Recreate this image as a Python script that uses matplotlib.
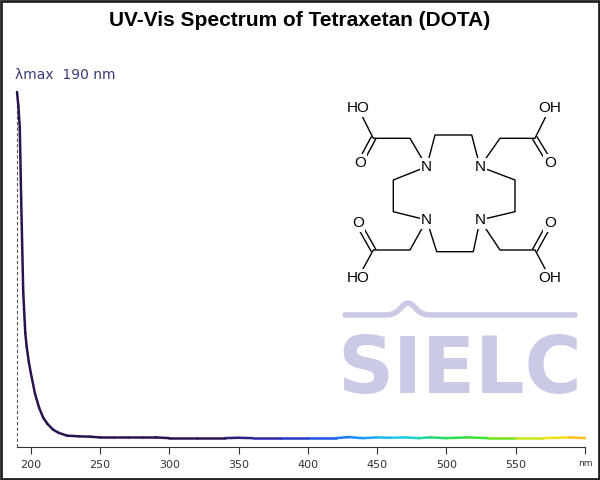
import numpy as np
import matplotlib
matplotlib.use("Agg")
import matplotlib.pyplot as plt
from matplotlib.collections import LineCollection
from matplotlib.colors import LinearSegmentedColormap
from matplotlib.patches import Rectangle

wavelength = [190, 191, 192, 193, 194.5, 196, 197, 198.5, 200, 203, 206, 209, 212, 216, 220, 226, 235, 243,
              250, 260, 270, 280, 290, 300, 320, 340, 350, 360, 380, 400, 420, 430, 435, 440, 450, 460,
              470, 480, 488, 500, 515, 530, 550, 570, 588, 600]
absorbance = [1.0, 0.96, 0.90, 0.70, 0.435, 0.32, 0.282, 0.24, 0.208, 0.150, 0.110, 0.082, 0.065, 0.049,
              0.040, 0.032, 0.030, 0.029, 0.027, 0.027, 0.027, 0.027, 0.027, 0.025, 0.025, 0.025, 0.026,
              0.025, 0.025, 0.025, 0.025, 0.028, 0.026, 0.025, 0.027, 0.026, 0.027, 0.025, 0.027, 0.025,
              0.027, 0.025, 0.025, 0.025, 0.027, 0.025]
tick_vals = [200, 250, 300, 350, 400, 450, 500, 550, 600]
tick_labels = ["200", "250", "300", "350", "400", "450", "500", "550", "nm"]

W, H = 600, 480
fig = plt.figure(figsize=(6, 4.8), dpi=100)
fig.patch.set_facecolor("white")

ax = fig.add_axes([17 / W, 33 / H, 568 / W, (447 - 92) / H])
ax.set_xlim(190, 600)
ax.set_ylim(0, 1)
for s in ["left", "right", "top"]:
    ax.spines[s].set_visible(False)
ax.spines["bottom"].set_color("#333333")
ax.set_yticks([])
ax.set_xticks(tick_vals)
ax.set_xticklabels(tick_labels)
for lab in ax.get_xticklabels():
    lab.set_fontsize(8 if lab.get_text() != "nm" else 6.5)
    lab.set_color("#333333")
ax.tick_params(axis="x", length=5, color="#333333", pad=4)
ax.set_facecolor("none")

cmap = LinearSegmentedColormap.from_list("spec", [
    (0.0, "#2a1450"), (0.33, "#2a1450"), (0.45, "#2a2aa8"), (0.52, "#2244e0"),
    (0.6, "#1e90ff"), (0.68, "#20d0e8"), (0.76, "#22dd55"), (0.84, "#55e020"),
    (0.9, "#c8e820"), (0.96, "#ffe01a"), (1.0, "#ffb020")])
x = np.array(wavelength, float)
y = np.array(absorbance, float)
pts = np.column_stack([x, y]).reshape(-1, 1, 2)
segs = np.concatenate([pts[:-1], pts[1:]], axis=1)
mids = (x[:-1] + x[1:]) / 2
lc = LineCollection(segs, colors=cmap((mids - 190) / 410), linewidth=1.8, clip_on=False,
                    capstyle="round", joinstyle="round")
ax.add_collection(lc)
ax.plot([190, 190], [0, 1], ls=(0, (3, 2)), color="#555555", lw=0.8, clip_on=False, zorder=0)

ov = fig.add_axes([0, 0, 1, 1], zorder=-1)
ov.set_xlim(0, W)
ov.set_ylim(H, 0)
ov.axis("off")
ov.add_patch(Rectangle((1, 1), W - 2, H - 2, fill=False, ec="#222222", lw=2))

fig.text(0.5, 1 - 20 / H, "UV-Vis Spectrum of Tetraxetan (DOTA)", ha="center", va="center",
         fontsize=15, fontweight="bold", family="Liberation Sans")
fig.text(15 / W, 1 - 75 / H, "λmax  190 nm", ha="left", va="center", fontsize=10,
         color="#3a3a78", family="DejaVu Sans")

lc_col = "#cacae6"
ov.text(460, 371, "SIELC", ha="center", va="center", fontsize=56, fontweight="bold",
        family="DejaVu Sans", color=lc_col)
xs = np.linspace(345, 575, 300)
ys = 315 - 12 * np.exp(-((xs - 408) / 10) ** 2)
ov.plot(xs, ys, color=lc_col, lw=4, solid_capstyle="round")

mol = fig.add_axes([0, 0, 1, 1], zorder=2)
mol.set_xlim(0, W)
mol.set_ylim(H, 0)
mol.axis("off")
N = {"TL": (426.7, 166.7), "TR": (480, 166.7), "BL": (426.7, 220), "BR": (480, 220)}
ring = [N["TL"], (435, 135), (471.7, 135), N["TR"], (515, 180), (515, 211.7), N["BR"],
        (473.3, 251.7), (436.7, 251.7), N["BL"], (393.3, 211.7), (393.3, 180), N["TL"]]
rx, ry = zip(*ring)
mol.plot(rx, ry, color="black", lw=1)
arms = [(N["TL"], (410, 138.3), (373.3, 138.3), (358, 108), "HO", (360, 163)),
        (N["TR"], (500, 138.3), (535, 138.3), (550, 108), "OH", (550, 163)),
        (N["BL"], (410, 250), (373.3, 250), (358, 278), "HO", (358, 223)),
        (N["BR"], (500, 250), (535, 250), (550, 278), "OH", (550, 223))]
for n, a, c, oh, ohl, o in arms:
    mol.plot([n[0], a[0], c[0], oh[0]], [n[1], a[1], c[1], oh[1]], color="black", lw=1)
    d = np.array(o) - np.array(c)
    perp = np.array([-d[1], d[0]]) / np.linalg.norm(d) * 2.5
    for sgn in (1, -1):
        mol.plot([c[0] + sgn * perp[0], o[0] + sgn * perp[0]],
                 [c[1] + sgn * perp[1], o[1] + sgn * perp[1]], color="black", lw=1)
    for pos, t in ((o, "O"), (oh, ohl)):
        mol.text(pos[0], pos[1], t, ha="center", va="center", fontsize=11, family="Liberation Sans",
                 bbox=dict(boxstyle="square,pad=0.1", fc="white", ec="none"))
for p in N.values():
    mol.text(p[0], p[1], "N", ha="center", va="center", fontsize=11, family="Liberation Sans",
             bbox=dict(boxstyle="square,pad=0.1", fc="white", ec="none"))

fig.savefig("out.png", dpi=100)
